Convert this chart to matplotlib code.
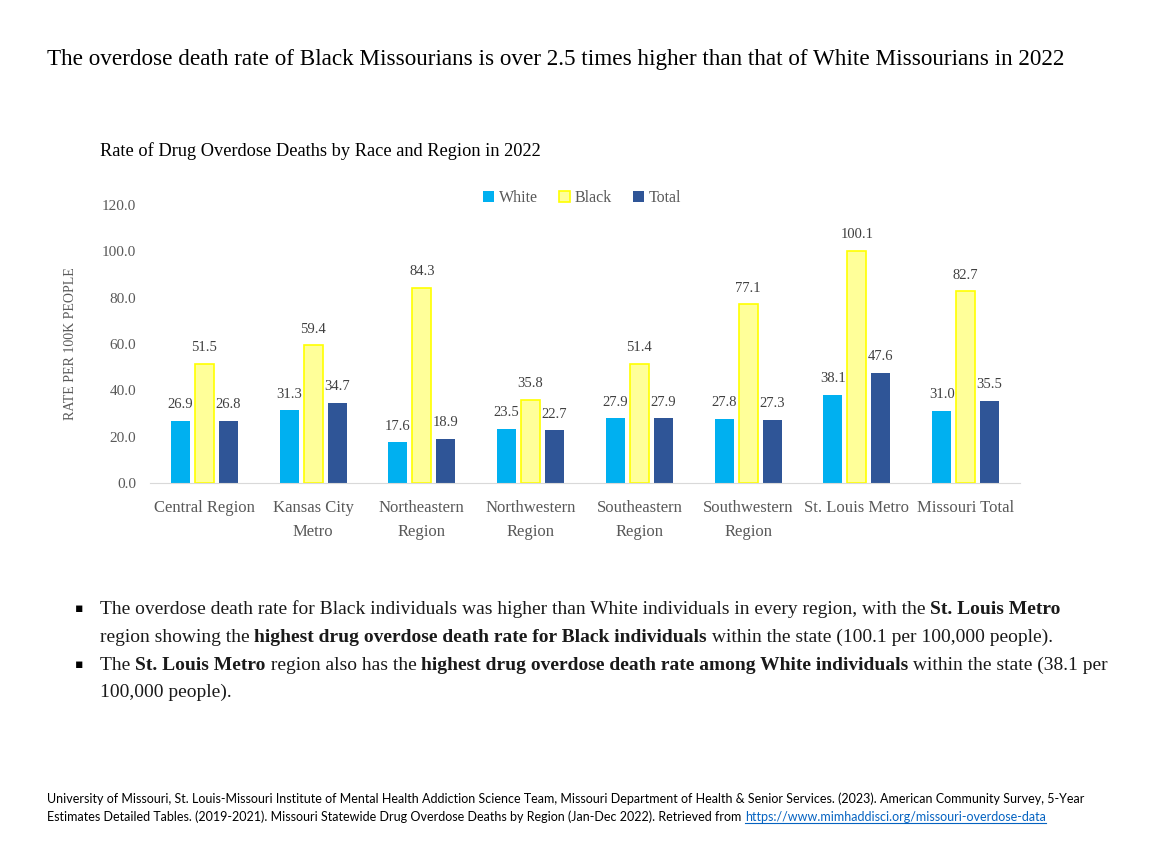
import matplotlib
matplotlib.use("Agg")
import matplotlib.pyplot as plt
import numpy as np

# data
regions = ["Central Region", "Kansas City\nMetro", "Northeastern\nRegion", "Northwestern\nRegion",
           "Southeastern\nRegion", "Southwestern\nRegion", "St. Louis Metro", "Missouri Total"]
white = [26.9, 31.3, 17.6, 23.5, 27.9, 27.8, 38.1, 31.0]
black = [51.5, 59.4, 84.3, 35.8, 51.4, 77.1, 100.1, 82.7]
total = [26.8, 34.7, 18.9, 22.7, 27.9, 27.3, 47.6, 35.5]
yticks = [0, 20, 40, 60, 80, 100, 120]

title = "The overdose death rate of Black Missourians is over 2.5 times higher than that of White Missourians in 2022"
chart_title = "Rate of Drug Overdose Deaths by Race and Region in 2022"

# bullet lines: list of (text, bold) segments per line
bullet_lines = [
    [("The overdose death rate for Black individuals was higher than White individuals in every region, with the ", False),
     ("St. Louis Metro", True)],
    [("region showing the ", False), ("highest drug overdose death rate for Black individuals", True),
     (" within the state (100.1 per 100,000 people).", False)],
    [("The ", False), ("St. Louis Metro", True), (" region also has the ", False),
     ("highest drug overdose death rate among White individuals", True), (" within the state (38.1 per", False)],
    [("100,000 people).", False)],
]
bullet_starts = [True, False, True, False]

source1 = ("University of Missouri, St. Louis-Missouri Institute of Mental Health Addiction Science Team, "
           "Missouri Department of Health & Senior Services. (2023). American Community Survey, 5-Year")
source2 = ("Estimates Detailed Tables. (2019-2021). Missouri Statewide Drug Overdose Deaths by Region "
           "(Jan-Dec 2022). Retrieved from ")
source_url = "https://www.mimhaddisci.org/missouri-overdose-data"

SERIF = ["Liberation Serif", "DejaVu Serif"]
SANS = ["Lato", "Liberation Sans", "DejaVu Sans"]
GREY = "#595959"
DARK = "#404040"

fig = plt.figure(figsize=(11.51, 8.46), dpi=100)
W, H = 1151, 846


def fx(px):
    return px / W


def fy(py):
    return 1 - py / H


fig.text(fx(47), fy(60), title, family=SERIF, fontsize=16.7, color="black", va="center", ha="left")
fig.text(fx(100), fy(151), chart_title, family=SERIF, fontsize=13.2, color="black", va="center", ha="left")

ax_left, ax_right, ax_top, ax_bot = 150, 1020, 205, 483
ax = fig.add_axes([fx(ax_left), fy(ax_bot), fx(ax_right) - fx(ax_left), fy(ax_top) - fy(ax_bot)])
x = np.arange(len(regions))
bw = 0.175
off = 0.22
b1 = ax.bar(x - off, white, bw, color="#00B0F0", label="White")
b2 = ax.bar(x, black, bw, color="#FFFF99", edgecolor="#FFFF00", linewidth=1.2, label="Black")
b3 = ax.bar(x + off, total, bw, color="#2F5597", label="Total")
for bars in (b1, b2, b3):
    ax.bar_label(bars, fmt="%.1f", padding=7, family=SERIF, fontsize=10.5, color=DARK)

ax.set_ylim(0, 120)
ax.set_xlim(-0.5, len(regions) - 0.5)
ax.set_yticks(yticks)
ax.set_yticklabels([f"{t:.1f}" for t in yticks], family=SERIF, fontsize=11, color=GREY)
ax.set_xticks(x)
ax.set_xticklabels(regions, family=SERIF, fontsize=12, color=GREY, linespacing=1.7)
ax.tick_params(axis="both", length=0)
ax.tick_params(axis="y", pad=10)
ax.tick_params(axis="x", pad=12)
for s in ("top", "right", "left"):
    ax.spines[s].set_visible(False)
ax.spines["bottom"].set_color("#D9D9D9")
ax.set_ylabel("RATE PER 100K PEOPLE", family=SERIF, fontsize=10, color=GREY)
ax.yaxis.set_label_coords((77 - ax_left) / (ax_right - ax_left), 0.5)

leg = fig.legend(handles=[b1, b2, b3], loc="center", bbox_to_anchor=(fx(582), fy(198)), ncol=3,
                 frameon=False, prop={"family": SERIF, "size": 11.5}, handlelength=0.7, handleheight=0.7,
                 handletextpad=0.3, columnspacing=1.3)
for t in leg.get_texts():
    t.set_color(GREY)

# bullets with mixed bold text
fig.canvas.draw()
renderer = fig.canvas.get_renderer()
line_y = [609, 637, 665, 692]
for segs, yy, has_bullet in zip(bullet_lines, line_y, bullet_starts):
    if has_bullet:
        fig.text(fx(75), fy(yy), "\u25aa", family=["DejaVu Sans"], fontsize=9, va="center", ha="left")
    xpos = 100
    for txt, bold in segs:
        t = fig.text(fx(xpos), fy(yy), txt, family=SERIF, fontsize=14.0, va="center", ha="left",
                     color="#1a1a1a", fontweight="bold" if bold else "normal")
        bb = t.get_window_extent(renderer)
        xpos += bb.width

fig.text(fx(47), fy(799), source1, family=SANS, fontsize=9, va="center", ha="left", color="black")
t = fig.text(fx(47), fy(817), source2, family=SANS, fontsize=9, va="center", ha="left", color="black")
bb = t.get_window_extent(renderer)
u = fig.text(fx(47) + bb.width / W, fy(817), source_url, family=SANS, fontsize=9, va="center", ha="left",
             color="#0563C1")
ub = u.get_window_extent(renderer)
fig.add_artist(plt.Line2D([ub.x0 / W, ub.x1 / W], [ub.y0 / H, ub.y0 / H], color="#0563C1", lw=0.8))

fig.savefig("out.png", dpi=100)
